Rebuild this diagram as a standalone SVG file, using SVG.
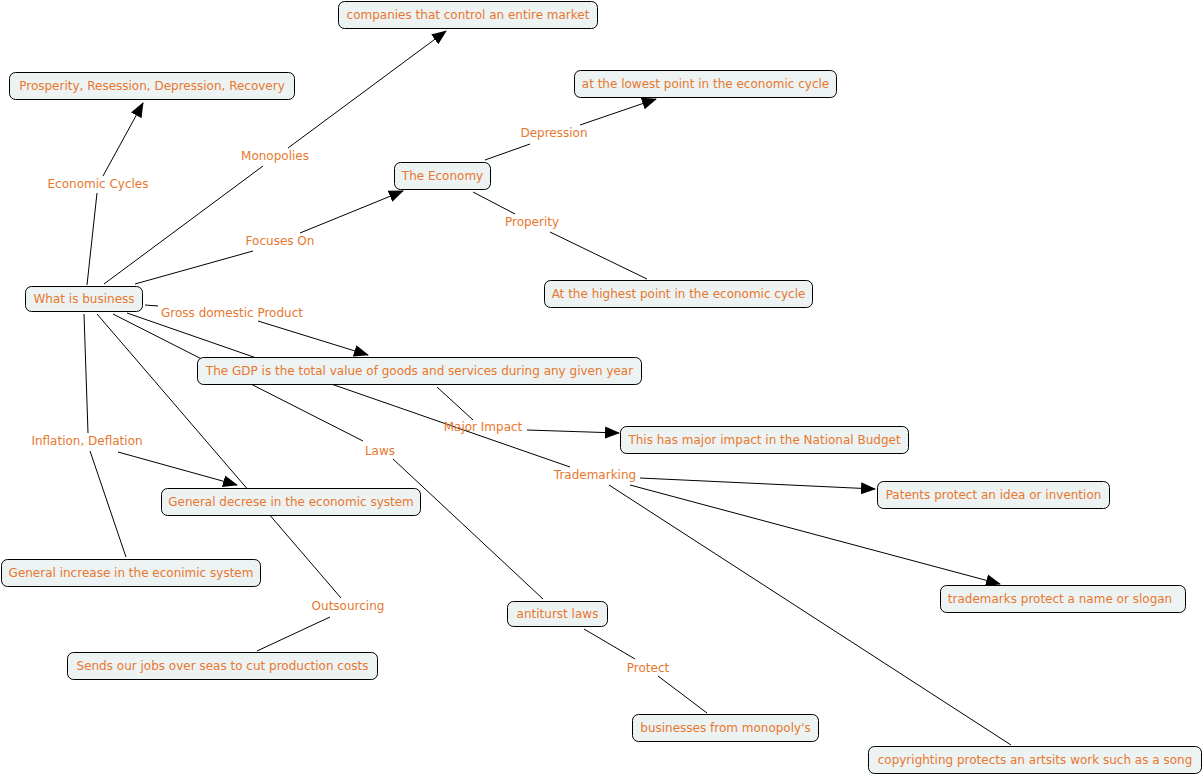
<svg xmlns="http://www.w3.org/2000/svg" width="1203" height="776" viewBox="0 0 1203 776">
<style>
.n rect{fill:#edf3f3;stroke:#000;stroke-width:1}
text{font-family:"DejaVu Sans","Liberation Sans",sans-serif;font-size:12px;fill:#e8772e;text-anchor:middle}
.c line{stroke:#000;stroke-width:1}
.a{marker-end:url(#ah)}
</style>
<defs>
<marker id="ah" markerUnits="userSpaceOnUse" markerWidth="16" markerHeight="14" refX="14" refY="6" orient="auto" viewBox="0 0 16 12">
<path d="M0,0 L15,6 L0,12 z" fill="#000"/>
</marker>
</defs>
<rect width="1203" height="776" fill="#fff"/>
<g id="connectors" class="c">
<line x1="87" y1="285" x2="97" y2="193"/>
<line class="a" x1="103" y1="176" x2="143" y2="103"/>
<line x1="104" y1="284" x2="263" y2="166"/>
<line class="a" x1="288" y1="148" x2="446" y2="31"/>
<line x1="135" y1="284" x2="253" y2="251"/>
<line class="a" x1="300" y1="233" x2="403" y2="191"/>
<line x1="485" y1="160" x2="530" y2="144"/>
<line class="a" x1="580" y1="125" x2="656" y2="99"/>
<line x1="473" y1="192" x2="515" y2="214"/>
<line x1="550" y1="232" x2="647" y2="279"/>
<line x1="145" y1="305" x2="158" y2="306"/>
<line class="a" x1="258" y1="321" x2="368" y2="355"/>
<line x1="113" y1="314" x2="363" y2="441"/>
<line x1="127" y1="313" x2="570" y2="467"/>
<line x1="437" y1="387" x2="473" y2="420"/>
<line class="a" x1="527" y1="430" x2="619" y2="433"/>
<line x1="393" y1="459" x2="543" y2="599"/>
<line class="a" x1="640" y1="478" x2="875" y2="489"/>
<line class="a" x1="630" y1="485" x2="1000" y2="584"/>
<line x1="609" y1="485" x2="1011" y2="745"/>
<line x1="84" y1="314" x2="88" y2="433"/>
<line x1="90" y1="451" x2="126" y2="557"/>
<line class="a" x1="118" y1="452" x2="237" y2="485"/>
<line x1="97" y1="314" x2="341" y2="598"/>
<line x1="330" y1="617" x2="257" y2="651"/>
<line x1="584" y1="629" x2="635" y2="659"/>
<line x1="658" y1="676" x2="707" y2="713"/>
</g>
<g id="labels">
<text x="98" y="188">Economic Cycles</text>
<text x="275" y="160">Monopolies</text>
<text x="280" y="245">Focuses On</text>
<text x="554" y="137">Depression</text>
<text x="532" y="226">Properity</text>
<text x="232" y="317">Gross domestic Product</text>
<text x="483" y="431">Major Impact</text>
<text x="380" y="455">Laws</text>
<text x="595" y="479">Trademarking</text>
<text x="87" y="445">Inflation, Deflation</text>
<text x="348" y="610">Outsourcing</text>
<text x="648" y="672">Protect</text>
</g>
<g id="n1" class="n"><rect x="338.5" y="1.5" width="259" height="27" rx="6"/><text x="468" y="19">companies that control an entire market</text></g>
<g id="n2" class="n"><rect x="9.5" y="72.5" width="285" height="27" rx="6"/><text x="152" y="90">Prosperity, Resession, Depression, Recovery</text></g>
<g id="n3" class="n"><rect x="574.5" y="70.5" width="262" height="27" rx="6"/><text x="705.5" y="88">at the lowest point in the economic cycle</text></g>
<g id="n4" class="n"><rect x="394.5" y="162.5" width="96" height="27" rx="6"/><text x="442.5" y="180">The Economy</text></g>
<g id="n5" class="n"><rect x="25.5" y="286.5" width="117" height="25" rx="6"/><text x="84" y="303">What is business</text></g>
<g id="n6" class="n"><rect x="544.5" y="280.5" width="268" height="27" rx="6"/><text x="678.5" y="298">At the highest point in the economic cycle</text></g>
<g id="n7" class="n"><rect x="197.5" y="357.5" width="444" height="27" rx="6"/><text x="419.5" y="375">The GDP is the total value of goods and services during any given year</text></g>
<g id="n8" class="n"><rect x="620.5" y="426.5" width="288" height="27" rx="6"/><text x="764.5" y="444">This has major impact in the National Budget</text></g>
<g id="n9" class="n"><rect x="877.5" y="481.5" width="232" height="27" rx="6"/><text x="993.5" y="499">Patents protect an idea or invention</text></g>
<g id="n10" class="n"><rect x="161.5" y="488.5" width="259" height="27" rx="6"/><text x="291" y="506">General decrese in the economic system</text></g>
<g id="n11" class="n"><rect x="1.5" y="559.5" width="259" height="27" rx="6"/><text x="131" y="577">General increase in the econimic system</text></g>
<g id="n12" class="n"><rect x="940.5" y="585.5" width="245" height="27" rx="6"/><text x="1060" y="603">trademarks protect a name or slogan</text></g>
<g id="n13" class="n"><rect x="507.5" y="601.5" width="100" height="25" rx="6"/><text x="557.5" y="618">antiturst laws</text></g>
<g id="n14" class="n"><rect x="67.5" y="652.5" width="310" height="27" rx="6"/><text x="222.5" y="670">Sends our jobs over seas to cut production costs</text></g>
<g id="n15" class="n"><rect x="632.5" y="714.5" width="186" height="27" rx="6"/><text x="725.5" y="732">businesses from monopoly's</text></g>
<g id="n16" class="n"><rect x="868.5" y="746.5" width="333" height="27" rx="6"/><text x="1035" y="764">copyrighting protects an artsits work such as a song</text></g>
</svg>
